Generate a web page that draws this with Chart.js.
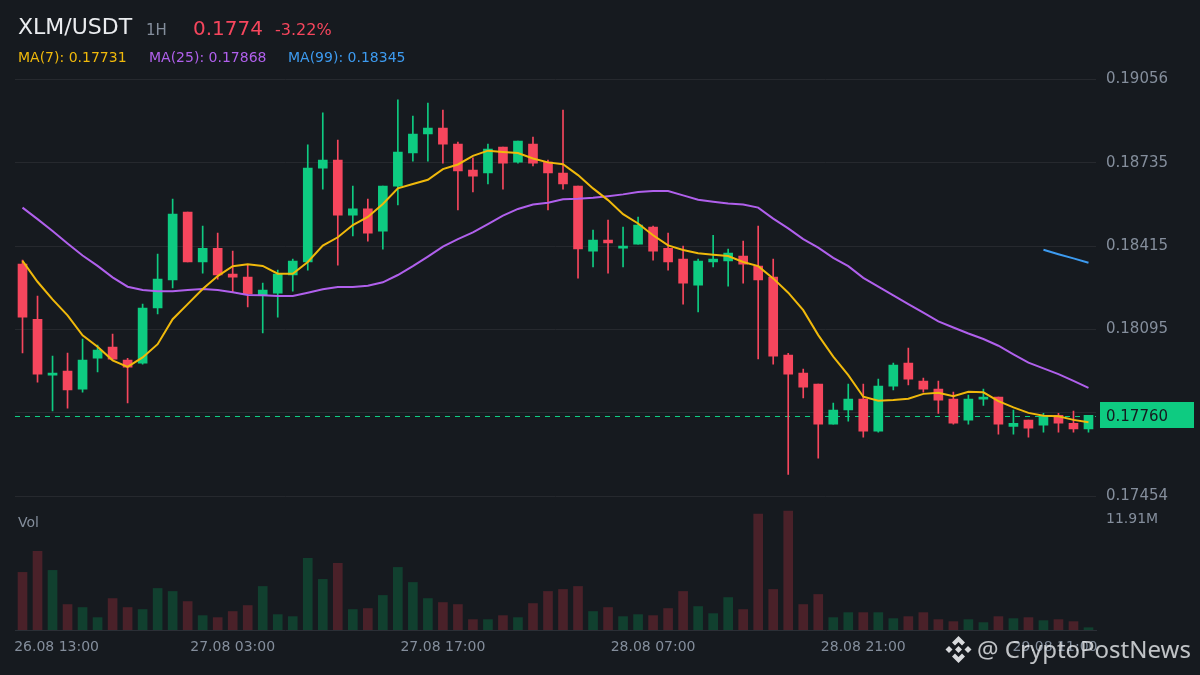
<!DOCTYPE html>
<html>
<head>
<meta charset="utf-8">
<title>XLM/USDT</title>
<script src="https://cdn.jsdelivr.net/npm/chart.js@4/dist/chart.umd.min.js"></script>
<style>
    html, body { margin: 0; padding: 0; background: #161a1f; }
    #wrap { position: relative; width: 1200px; height: 675px; overflow: hidden; font-family: "DejaVu Sans", sans-serif; }
    #wrap span, #wrap svg { position: absolute; white-space: nowrap; }
    canvas { display: block; }
</style>
</head>
<body>
<div id="wrap">
    <canvas id="chart" width="1200" height="675"></canvas>
    <span style="left:18px;top:14px;font-size:22px;color:#eaecef;">XLM/USDT</span>
    <span style="left:146px;top:21px;font-size:15px;color:#848e9c;">1H</span>
    <span style="left:193px;top:16px;font-size:20px;color:#f6465d;">0.1774</span>
    <span style="left:275px;top:20px;font-size:16px;color:#f6465d;">-3.22%</span>
    <span style="left:18px;top:49px;font-size:14px;color:#f0b90b;">MA(7): 0.17731</span>
    <span style="left:149px;top:49px;font-size:14px;color:#b060ec;">MA(25): 0.17868</span>
    <span style="left:288px;top:49px;font-size:14px;color:#3d9bf0;">MA(99): 0.18345</span>
    <span style="left:18px;top:514px;font-size:14px;color:#848e9c;">Vol</span>
    <svg style="left:945px;top:636px;" width="27" height="27" viewBox="0 0 27 27" fill="#d8dadd">
        <polygon points="13.5,0 20,6.5 17,9.5 13.5,6 10,9.5 7,6.5"/>
        <polygon points="13.5,27 20,20.5 17,17.5 13.5,21 10,17.5 7,20.5"/>
        <polygon points="4,10 7.5,13.5 4,17 0.5,13.5"/>
        <polygon points="23,10 26.5,13.5 23,17 19.5,13.5"/>
        <polygon points="13.5,10 17,13.5 13.5,17 10,13.5"/>
    </svg>
    <span style="left:977px;top:632px;font-family:'Noto Sans',sans-serif;font-size:24px;color:rgba(235,237,240,0.8);">@ CryptoPostNews</span>
</div>
<script>
// hourly candles
var categories = [
    '26.08 13:00','26.08 14:00','26.08 15:00','26.08 16:00','26.08 17:00','26.08 18:00','26.08 19:00','26.08 20:00','26.08 21:00','26.08 22:00','26.08 23:00',
    '27.08 00:00','27.08 01:00','27.08 02:00','27.08 03:00','27.08 04:00','27.08 05:00','27.08 06:00','27.08 07:00','27.08 08:00','27.08 09:00','27.08 10:00','27.08 11:00','27.08 12:00',
    '27.08 13:00','27.08 14:00','27.08 15:00','27.08 16:00','27.08 17:00','27.08 18:00','27.08 19:00','27.08 20:00','27.08 21:00','27.08 22:00','27.08 23:00',
    '28.08 00:00','28.08 01:00','28.08 02:00','28.08 03:00','28.08 04:00','28.08 05:00','28.08 06:00','28.08 07:00','28.08 08:00','28.08 09:00','28.08 10:00','28.08 11:00','28.08 12:00',
    '28.08 13:00','28.08 14:00','28.08 15:00','28.08 16:00','28.08 17:00','28.08 18:00','28.08 19:00','28.08 20:00','28.08 21:00','28.08 22:00','28.08 23:00',
    '29.08 00:00','29.08 01:00','29.08 02:00','29.08 03:00','29.08 04:00','29.08 05:00','29.08 06:00','29.08 07:00','29.08 08:00','29.08 09:00','29.08 10:00','29.08 11:00','29.08 12:00'
];
var opens = [
    0.18346,0.18134,0.17919,0.17935,0.17865,0.17984,0.18027,0.17977,0.17965,0.18177,0.18285,0.18546,
    0.18354,0.18407,0.18308,0.18296,0.18227,0.18234,0.18304,0.18354,0.18715,0.18746,0.18534,0.18558,
    0.18473,0.18646,0.18773,0.18846,0.18869,0.18807,0.18707,0.18696,0.18796,0.18738,0.18807,0.18738,
    0.18696,0.18646,0.18396,0.18438,0.18407,0.18423,0.18488,0.18407,0.18365,0.18265,0.18354,0.18358,
    0.18377,0.18338,0.18296,0.17996,0.17927,0.17885,0.17731,0.17785,0.17827,0.17704,0.17877,0.17965,
    0.17896,0.17865,0.17827,0.17746,0.17827,0.17835,0.17722,0.17746,0.17727,0.17765,0.17734,0.17712
];
var closes = [
    0.18142,0.17923,0.17927,0.17862,0.17977,0.18015,0.17980,0.17950,0.18177,0.18288,0.18538,0.18354,
    0.18407,0.18304,0.18296,0.18231,0.18246,0.18308,0.18358,0.18715,0.18746,0.18534,0.18558,0.18465,
    0.18646,0.18777,0.18846,0.18869,0.18807,0.18704,0.18684,0.18788,0.18734,0.18819,0.18734,0.18696,
    0.18654,0.18404,0.18438,0.18427,0.18415,0.18496,0.18396,0.18354,0.18273,0.18358,0.18365,0.18388,
    0.18346,0.18285,0.17992,0.17923,0.17873,0.17731,0.17785,0.17827,0.17704,0.17877,0.17958,0.17904,
    0.17865,0.17823,0.17734,0.17827,0.17835,0.17731,0.17734,0.17715,0.17761,0.17734,0.17712,0.17765
];
var highs = [
    0.18361,0.18223,0.17992,0.18004,0.18058,0.18035,0.18077,0.17984,0.18192,0.18384,0.18596,0.18546,
    0.18492,0.18465,0.18396,0.18342,0.18273,0.18323,0.18365,0.18804,0.18927,0.18823,0.18646,0.18596,
    0.18646,0.18977,0.18915,0.18965,0.18938,0.18815,0.18754,0.18807,0.18796,0.18819,0.18834,0.18746,
    0.18938,0.18646,0.18477,0.18515,0.18488,0.18527,0.18492,0.18465,0.18415,0.18365,0.18457,0.18404,
    0.18434,0.18492,0.18365,0.18003,0.17942,0.17885,0.17812,0.17885,0.17885,0.17904,0.17965,0.18023,
    0.17908,0.17896,0.17854,0.17842,0.17865,0.17835,0.17785,0.17746,0.17772,0.17772,0.17781,0.17765
];
var lows = [
    0.18004,0.17892,0.17781,0.17792,0.17854,0.17931,0.17980,0.17812,0.17961,0.18154,0.18254,0.18354,
    0.18311,0.18288,0.18238,0.18181,0.18081,0.18142,0.18242,0.18323,0.18634,0.18342,0.18454,0.18434,
    0.18403,0.18573,0.18742,0.18742,0.18734,0.18554,0.18623,0.18654,0.18634,0.18734,0.18723,0.18554,
    0.18634,0.18292,0.18335,0.18311,0.18335,0.18423,0.18361,0.18323,0.18192,0.18162,0.18335,0.18261,
    0.18273,0.17981,0.17961,0.17537,0.17831,0.17600,0.17731,0.17742,0.17681,0.17700,0.17862,0.17881,
    0.17854,0.17772,0.17731,0.17731,0.17803,0.17692,0.17692,0.17681,0.17700,0.17700,0.17700,0.17700
];
var volumes = [
    5.77,7.88,5.97,2.55,2.25,1.24,3.15,2.25,2.05,4.16,3.86,2.85,
    1.44,1.24,1.85,2.45,4.36,1.54,1.34,7.18,5.07,6.68,2.05,2.15,
    3.46,6.27,4.76,3.15,2.75,2.55,1.04,1.04,1.44,1.24,2.65,3.86,
    4.06,4.36,1.85,2.25,1.34,1.54,1.44,2.15,3.86,2.35,1.64,3.25,
    2.05,11.61,4.06,11.91,2.55,3.56,1.24,1.74,1.74,1.74,1.14,1.34,
    1.74,1.04,0.84,1.04,0.74,1.34,1.14,1.24,0.94,1.04,0.84,0.23
];
var ma7 = [
    0.18358,0.18278,0.18210,0.18149,0.18072,0.18028,0.17976,0.17951,0.17987,0.18038,0.18134,0.18192,
    0.18250,0.18300,0.18338,0.18345,0.18339,0.18309,0.18309,0.18354,0.18417,0.18449,0.18496,0.18527,
    0.18577,0.18637,0.18654,0.18670,0.18711,0.18729,0.18762,0.18782,0.18777,0.18773,0.18752,0.18737,
    0.18730,0.18688,0.18637,0.18592,0.18538,0.18502,0.18457,0.18418,0.18400,0.18388,0.18382,0.18377,
    0.18354,0.18338,0.18291,0.18236,0.18169,0.18073,0.17990,0.17919,0.17836,0.17821,0.17823,0.17828,
    0.17847,0.17851,0.17838,0.17855,0.17853,0.17819,0.17795,0.17774,0.17763,0.17761,0.17747,0.17738
];
var ma25 = [
    0.18563,0.18519,0.18473,0.18425,0.18379,0.18339,0.18295,0.18259,0.18246,0.18242,0.18242,0.18246,
    0.18250,0.18246,0.18238,0.18227,0.18226,0.18223,0.18223,0.18236,0.18249,0.18258,0.18258,0.18263,
    0.18276,0.18304,0.18338,0.18375,0.18413,0.18442,0.18468,0.18500,0.18532,0.18558,0.18575,0.18582,
    0.18595,0.18597,0.18601,0.18607,0.18614,0.18623,0.18627,0.18627,0.18610,0.18593,0.18586,0.18579,
    0.18575,0.18563,0.18521,0.18483,0.18442,0.18409,0.18370,0.18338,0.18293,0.18259,0.18226,0.18192,
    0.18159,0.18126,0.18102,0.18079,0.18058,0.18032,0.17999,0.17967,0.17945,0.17923,0.17897,0.17870
];
// only the last four hours of MA(99) are on screen
var ma99 = new Array(68).fill(null).concat([0.18401,0.18384,0.18368,0.18351]);

var priceTicks = [0.19056,0.18735,0.18415,0.18095,0.17775,0.17454];
var hiddenTick = 0.17775; // sits under the last price box
var lastPrice = 0.17760;
var volTickLabel = '11.91M';
var volLabelAt = 11.74; // label hangs just under the top bar
var volMax = 13.41;
var timeTicks = [0,14,28,42,56,70];
// first and last time labels get pushed inside the plot
var firstLabelAt = 2.27;
var lastLabelAt = 68.77;

var GREEN = '#0ecb81', RED = '#f6465d', GREEN_VOL = '#11402f', RED_VOL = '#4a2129';
var GRID = '#26292e', TEXT = '#848e9c';

function isUp(i) { return closes[i] >= opens[i]; }
var candleColors = categories.map(function (c, i) { return isUp(i) ? GREEN : RED; });
var volColors = categories.map(function (c, i) { return isUp(i) ? GREEN_VOL : RED_VOL; });

var lastPricePlugin = {
    id: 'lastPrice',
    beforeDatasetsDraw: function (chart) {
        var ctx = chart.ctx, area = chart.chartArea;
        var y = Math.floor(chart.scales.y.getPixelForValue(lastPrice)) + 0.5;
        ctx.save();
        ctx.strokeStyle = GREEN;
        ctx.lineWidth = 1;
        ctx.setLineDash([5, 5]);
        ctx.beginPath();
        ctx.moveTo(area.left, y);
        ctx.lineTo(area.right, y);
        ctx.stroke();
        ctx.restore();
    },
    afterDraw: function (chart) {
        var ctx = chart.ctx;
        var y = Math.floor(chart.scales.y.getPixelForValue(lastPrice));
        ctx.save();
        ctx.fillStyle = GREEN;
        ctx.fillRect(1100, y - 14, 94, 26);
        ctx.fillStyle = '#161a1f';
        ctx.font = '15px "DejaVu Sans"';
        ctx.textBaseline = 'middle';
        ctx.fillText(lastPrice.toFixed(5), 1106, y + 1);
        ctx.restore();
    }
};

var ctx = document.getElementById('chart').getContext('2d');
new Chart(ctx, {
    type: 'bar',
    data: {
        labels: categories,
        datasets: [
            { type: 'line', data: ma7, yAxisID: 'y', borderColor: '#f0b90b', borderWidth: 2, pointRadius: 0, tension: 0, order: 1 },
            { type: 'line', data: ma25, yAxisID: 'y', borderColor: '#b060ec', borderWidth: 2, pointRadius: 0, tension: 0, order: 1 },
            { type: 'line', data: ma99, yAxisID: 'y', borderColor: '#3d9bf0', borderWidth: 2, pointRadius: 0, tension: 0, order: 1 },
            // same stack key so every bar shares one slot on the hour
            { data: opens.map(function (o, i) { return [o, closes[i]]; }), yAxisID: 'y', stack: 'hour', backgroundColor: candleColors, barThickness: 9, order: 2 },
            { data: lows.map(function (l, i) { return [l, highs[i]]; }), yAxisID: 'y', stack: 'hour', backgroundColor: candleColors, barThickness: 1, order: 3 },
            { data: volumes, yAxisID: 'yVol', stack: 'hour', backgroundColor: volColors, barThickness: 9, order: 4 }
        ]
    },
    options: {
        responsive: false,
        animation: false,
        devicePixelRatio: 1,
        layout: { padding: { left: 15, top: 79.4, right: 0, bottom: 0 } },
        plugins: { legend: { display: false }, tooltip: { enabled: false } },
        scales: {
            x: {
                grid: { display: false, drawTicks: false },
                border: { display: true, color: '#2b2f36' },
                afterBuildTicks: function (scale) {
                    scale.ticks = timeTicks.map(function (t) {
                        return { value: Math.min(Math.max(t, firstLabelAt), lastLabelAt) };
                    });
                },
                afterFit: function (scale) { scale.height = 45; },
                ticks: {
                    autoSkip: false,
                    maxRotation: 0,
                    minRotation: 0,
                    padding: 9,
                    color: TEXT,
                    font: { family: 'DejaVu Sans', size: 14 },
                    callback: function (v, i) { return categories[timeTicks[i]]; }
                }
            },
            y: {
                position: 'right',
                stack: 'panes',
                stackWeight: 416.7,
                stacked: false,
                min: priceTicks[priceTicks.length - 1],
                max: priceTicks[0],
                grid: { color: GRID, drawTicks: false },
                border: { display: false },
                afterBuildTicks: function (scale) {
                    scale.ticks = priceTicks.map(function (p) { return { value: p }; });
                },
                afterFit: function (scale) { scale.width = 104; },
                ticks: {
                    padding: 10,
                    crossAlign: 'near',
                    color: TEXT,
                    font: { family: 'DejaVu Sans', size: 15 },
                    callback: function (v) { return v === hiddenTick ? '' : v.toFixed(5); }
                }
            },
            yVol: {
                position: 'right',
                stack: 'panes',
                stackWeight: 133.9,
                stacked: false,
                min: 0,
                max: volMax,
                grid: { display: false, drawTicks: false },
                border: { display: false },
                afterBuildTicks: function (scale) { scale.ticks = [{ value: volLabelAt }]; },
                afterFit: function (scale) { scale.width = 104; },
                ticks: {
                    padding: 10,
                    align: 'start',
                    crossAlign: 'near',
                    color: TEXT,
                    font: { family: 'DejaVu Sans', size: 14 },
                    callback: function () { return volTickLabel; }
                }
            }
        }
    },
    plugins: [lastPricePlugin]
});
</script>
</body>
</html>
